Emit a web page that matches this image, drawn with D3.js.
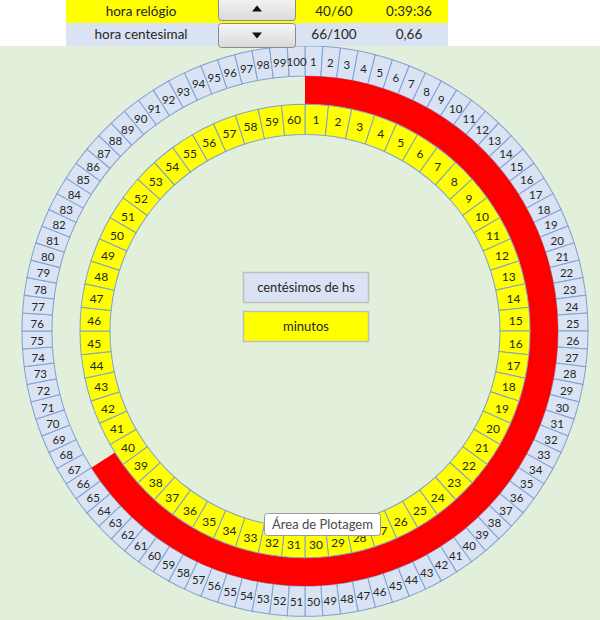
<!DOCTYPE html>
<html><head><meta charset="utf-8">
<script src="https://cdn.jsdelivr.net/npm/d3@7"></script>
<style>body{margin:0;background:#fff}svg{display:block}</style>
</head><body>
<svg id="c" width="600" height="620"></svg>
<script>
// ---- data ----
const hundredths = [1,2,3,4,5,6,7,8,9,10,11,12,13,14,15,16,17,18,19,20,21,22,23,24,25,26,27,28,29,30,31,32,33,34,35,36,37,38,39,40,41,42,43,44,45,46,47,48,49,50,51,52,53,54,55,56,57,58,59,60,61,62,63,64,65,66,67,68,69,70,71,72,73,74,75,76,77,78,79,80,81,82,83,84,85,86,87,88,89,90,91,92,93,94,95,96,97,98,99,100];
const minutes = [1,2,3,4,5,6,7,8,9,10,11,12,13,14,15,16,17,18,19,20,21,22,23,24,25,26,27,28,29,30,31,32,33,34,35,36,37,38,39,40,41,42,43,44,45,46,47,48,49,50,51,52,53,54,55,56,57,58,59,60];
const progressHundredths = 66;   // 66/100
const rowLabels = ["hora relógio", "hora centesimal"];
const rowFractions = ["40/60", "66/100"];
const rowValues = ["0:39:36", "0,66"];
const legendLabels = ["centésimos de hs", "minutos"];

const svg = d3.select("#c");
const FONT = "Lato, 'Open Sans', sans-serif";

// background plot area
svg.append("rect").attr("x",0).attr("y",46).attr("width",600).attr("height",574).attr("fill","#e2efda");

const cx = 305, cy = 331, sy = 1.008;
const g = svg.append("g").attr("transform",`translate(${cx},${cy}) scale(1,${sy})`);

const pie = d3.pie().sort(null).value(() => 1);

// outer ring (hundredths)
const outerArc = d3.arc().innerRadius(253).outerRadius(283);
const outerLabelArc = d3.arc().innerRadius(268).outerRadius(268);
const op = pie(hundredths);
g.selectAll("path.o").data(op).join("path").attr("class","o")
  .attr("d", outerArc).attr("fill","#dae3f3").attr("stroke","#7fa1d3").attr("stroke-width",1);

// red progress band
const angle = d3.scaleLinear().domain([0, hundredths.length]).range([0, 2*Math.PI]);
g.append("path").attr("d", d3.arc().innerRadius(225).outerRadius(253)
   .startAngle(angle(0)).endAngle(angle(progressHundredths))()).attr("fill","#ff0000");

// inner ring (minutes)
const innerArc = d3.arc().innerRadius(195).outerRadius(225);
const innerLabelArc = d3.arc().innerRadius(211).outerRadius(211);
const ip = pie(minutes);
g.selectAll("path.i").data(ip).join("path").attr("class","i")
  .attr("d", innerArc).attr("fill","#ffff00").attr("stroke","#7fa1d3").attr("stroke-width",1);

g.selectAll("text.o").data(op).join("text").attr("class","o")
  .attr("transform", d => `translate(${outerLabelArc.centroid(d)})`)
  .attr("text-anchor","middle").attr("dy","0.45em")
  .attr("font-family",FONT).attr("font-size",11.5).attr("fill","#262626")
  .text(d => d.data);
g.selectAll("text.i").data(ip).join("text").attr("class","i")
  .attr("transform", d => `translate(${innerLabelArc.centroid(d)})`)
  .attr("text-anchor","middle").attr("dy","0.45em")
  .attr("font-family",FONT).attr("font-size",12).attr("fill","#262626")
  .text(d => d.data);

// legend boxes in the center
const legFills = ["#dae3f3", "#ffff00"];
const legY = [272, 311];
legendLabels.forEach((t,i) => {
  svg.append("rect").attr("x",243.5).attr("y",legY[i]+0.5).attr("width",125).attr("height",30)
    .attr("fill",legFills[i]).attr("stroke","#bfbfbf").attr("stroke-width",1.5);
  svg.append("text").attr("x",306).attr("y",legY[i]+15).attr("dy","0.35em").attr("text-anchor","middle")
    .attr("font-family",FONT).attr("font-size",13).attr("fill","#262626").text(t);
});

// top table
const rowFill = ["#ffff00", "#dae3f3"];
const rowY = [0, 23];
const rowH = [23, 23];
const defs = svg.append("defs");
const grad = defs.append("linearGradient").attr("id","btn").attr("x1",0).attr("y1",0).attr("x2",0).attr("y2",1);
grad.append("stop").attr("offset","0%").attr("stop-color","#f6f6f6");
grad.append("stop").attr("offset","100%").attr("stop-color","#d9d9d9");
rowLabels.forEach((t,i) => {
  svg.append("rect").attr("x",66).attr("y",rowY[i]).attr("width",382).attr("height",rowH[i]).attr("fill",rowFill[i]);
  const ty = rowY[i] + 11.5;
  svg.append("text").attr("x",141).attr("y",ty).attr("dy","0.35em").attr("text-anchor","middle")
    .attr("font-family",FONT).attr("font-size",13.5).attr("fill","#262626").text(t);
  svg.append("text").attr("x",334).attr("y",ty).attr("dy","0.35em").attr("text-anchor","middle")
    .attr("font-family",FONT).attr("font-size",13.5).attr("fill","#262626").text(rowFractions[i]);
  svg.append("text").attr("x",409).attr("y",ty).attr("dy","0.35em").attr("text-anchor","middle")
    .attr("font-family",FONT).attr("font-size",13.5).attr("fill","#262626").text(rowValues[i]);
});
// spinner buttons
const btnY = [-4, 23];
btnY.forEach((y,i) => {
  svg.append("rect").attr("x",218.5).attr("y",y+0.5).attr("width",77).attr("height",24).attr("rx",3)
    .attr("fill","url(#btn)").attr("stroke","#8c8c8c");
  const by = y + 12.5, bx = 257;
  const tri = i === 0 ? `M${bx-5},${by+3}L${bx+5},${by+3}L${bx},${by-3}Z` : `M${bx-5},${by-3}L${bx+5},${by-3}L${bx},${by+3}Z`;
  svg.append("path").attr("d",tri).attr("fill","#111");
});

// tooltip
svg.append("rect").attr("x",264.5).attr("y",513.5).attr("width",116).attr("height",22).attr("rx",3)
  .attr("fill","#ffffff").attr("stroke","#9a9a9a");
svg.append("text").attr("x",322.5).attr("y",524.5).attr("dy","0.35em").attr("text-anchor","middle")
  .attr("font-family",FONT).attr("font-size",13).attr("fill","#4a4a4a").text("Área de Plotagem");
</script>
</body></html>
